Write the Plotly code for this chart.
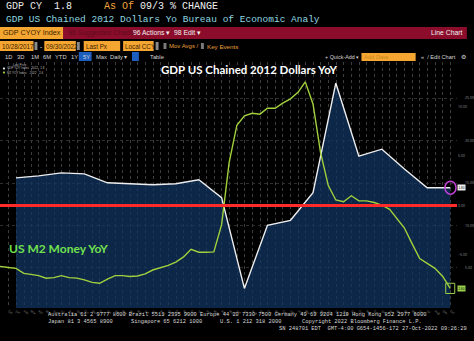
import pandas as pd
import plotly.graph_objects as go

# ---------------- data ----------------
gdp_dates = ["2017-12-31", "2018-03-31", "2018-06-30", "2018-09-30", "2018-12-31",
             "2019-03-31", "2019-06-30", "2019-09-30", "2019-12-31", "2020-03-31",
             "2020-06-30", "2020-09-30", "2020-12-31", "2021-03-31", "2021-06-30",
             "2021-09-30", "2021-12-31", "2022-03-31", "2022-06-30", "2022-09-30"]
gdp_yoy = [2.8, 3.0, 3.3, 3.2, 2.3, 2.2, 2.1, 2.2, 2.6, 0.8,
           -8.4, -2.0, -1.5, 1.3, 12.4, 5.0, 5.7, 3.7, 1.8, 1.8]

m2_dates = list(pd.date_range("2017-09-30", "2022-09-30", freq="ME").strftime("%Y-%m-%d"))
m2_yoy = [5.3, 5.15, 5.05, 4.96,
          4.37, 4.25, 4.1, 3.8, 3.87, 4.1, 3.87, 3.8, 3.6, 3.3, 3.2, 3.7,
          4.1, 4.1, 4.0, 4.05, 4.3, 4.76, 5.0, 5.3, 5.7, 6.3, 7.2, 6.85,
          6.85, 6.9, 10.1, 17.4, 21.8, 22.9, 23.2, 23.1, 23.8, 23.8, 24.4, 24.9,
          25.7, 26.9, 24.3, 18.6, 14.7, 13.0, 12.8, 13.5, 12.9, 12.9, 12.7, 12.4,
          11.9, 10.8, 9.7, 7.9, 6.1, 5.55, 4.96, 4.0, 2.6]

gdp_ticks = [-5, 0, 5, 10]
m2_ticks = [5, 10, 15, 20, 25]
x_range = ["2017-10-28", "2022-10-27"]
GDP_LO, GDP_HI = -10.38, 14.53
M2_LO, M2_HI = 0.29, 29.24

# ---------------- geometry helpers (pixels -> paper) ----------------
W, H = 474, 341
PL, PR, PT, PB = 0, 464, 62, 308


def px(x):
    return (x - PL) / (PR - PL)


def py(y):
    return (PB - y) / (PB - PT)


MONO = "Liberation Mono, DejaVu Sans Mono, monospace"
SANS = "Liberation Sans, Arial, sans-serif"
ORANGE = "#f5a631"
RED_BAR = "#8b0d2b"

shapes = []
annotations = []


def box(x0, y0, x1, y1, color):
    shapes.append(dict(type="rect", xref="paper", yref="paper",
                       x0=px(x0), x1=px(x1), y0=py(y1), y1=py(y0),
                       fillcolor=color, line_width=0, layer="above"))


def txt(x, y, s, color="#e6e6e6", size=8, family=SANS, anchor="left", bold=False):
    annotations.append(dict(xref="paper", yref="paper", x=px(x), y=py(y),
                            text=("<b>%s</b>" % s) if bold else s, showarrow=False,
                            xanchor=anchor, yanchor="middle", borderpad=0,
                            font=dict(family=family, size=size, color=color)))


# header row 1
txt(5, 6.5, "GDP CY", "#e6e6e6", 10, MONO)
txt(54, 6.5, "1.8", "#f0f0f0", 10, MONO)
txt(105, 6.5, "As Of", "#f0a33a", 10, MONO)
txt(141, 6.5, "09/3 % CHANGE", "#f0f0f0", 10, MONO)
# header row 2
txt(5, 19, "GDP US Chained 2012 Dollars Yo Bureau of Economic Analy", "#8fd8e0", 9.5, MONO)
# red toolbar
box(0, 27, 474, 39, RED_BAR)
box(0, 27, 64, 39, ORANGE)
txt(2, 33, "GDP CYOY Index", "#3a2200", 7.2)
txt(68, 33, "96 Suggested Charts", "#5e0a1c", 7)
txt(134, 33, "96 Actions ▾", "#f2f2f2", 6.8)
txt(176, 33, "98 Edit ▾", "#f2f2f2", 6.8)
txt(470, 33, "Line Chart", "#f2f2f2", 6.8, anchor="right")
# date row
for (a, b, s) in [(0, 34, "10/28/2017"), (45, 77, "09/30/2022"), (85, 122, "Last Px"),
                  (125, 156, "Local CCY")]:
    box(a, 41, b, 51, ORANGE)
    txt(a + 1, 46, s, "#3a2200", 6.3)
for a in (35, 78, 158):
    box(a, 42, a + 3, 50, "#8a8a8a")
txt(40, 46, "-", "#e0e0e0", 6.3)
box(166, 43, 169, 49, "#7a7a7a")
txt(171, 46, "Mov Avgs /", "#e8a03c", 6)
box(204, 43, 207, 49, "#7a7a7a")
txt(209, 46, "Key Events", "#e8a03c", 6.2)
# range row
box(80, 52, 93, 61, "#1d5fbf")
box(134, 52, 141, 61, "#1d5fbf")
for (x, s) in [(4, "1D"), (16, "3D"), (30, "1M"), (43, "6M"), (55, "YTD"), (71, "1Y"),
               (83, "5Y"), (96, "Max"), (111, "Daily ▾"), (151, "Table")]:
    txt(x, 57, s, "#d6d6d6", 5.8)
txt(329, 57, "+ Quick-Add ▾", "#d6d6d6", 5.4)
box(367, 53, 422, 61, ORANGE)
txt(369, 57, "Add Data", "#c9861c", 5.8)
txt(426, 57, "«  / Edit Chart", "#d6d6d6", 5.6)
txt(467, 57, "⚙", "#d6d6d6", 5.6)

# mini legend
txt(12, 64.5, "Last Price", "#bbbbbb", 3)
box(3, 67.6, 5, 69.4, "#f0f0f0")
txt(6, 68.5, "GDP YOY Index   2022   1.8", "#bbbbbb", 3)
box(3, 71.6, 5, 73.4, "#a2d13c")
txt(6, 72.5, "M2 YOY Index    2022   2.6", "#bbbbbb", 3)

# chart texts
txt(253, 70, "GDP US Chained 2012 Dollars YoY", "#ffffff", 11.5, "Lato, Open Sans, sans-serif",
    anchor="center", bold=True)
txt(8, 248, "US M2 Money YoY", "#72e04e", 12, "Lato, Open Sans, sans-serif", bold=True)

# footer
FOOT = "#d8d8d8"
txt(48, 315, "Australia 61 2 9777 8600 Brazil 5511 2395 9000 Europe 44 20 7330 7500 "
             "Germany 49 69 9204 1210 Hong Kong 852 2977 6000", FOOT, 5.4, MONO)
txt(48, 322, "Japan 81 3 4565 8900", FOOT, 5.4, MONO)
txt(132, 322, "Singapore 65 6212 1000", FOOT, 5.4, MONO)
txt(222, 322, "U.S. 1 212 318 2000", FOOT, 5.4, MONO)
txt(306, 322, "Copyright 2022 Bloomberg Finance L.P.", FOOT, 5.4, MONO)
txt(282, 328.5, "SN 248701 EDT  GMT-4:00 G654-1456-172 27-Oct-2022 09:26:29", FOOT, 5.4, MONO)

# ---------------- traces ----------------
fig = go.Figure()
fig.add_trace(go.Scatter(x=gdp_dates, y=[GDP_LO] * len(gdp_dates), mode="lines",
                         line=dict(width=0, color="rgba(0,0,0,0)"), hoverinfo="skip",
                         yaxis="y"))
fig.add_trace(go.Scatter(x=gdp_dates, y=gdp_yoy, mode="lines", name="GDP YoY",
                         line=dict(color="#eeeeee", width=1.4), fill="tonexty",
                         fillcolor="rgba(17,53,98,0.74)", yaxis="y"))
fig.add_trace(go.Scatter(x=m2_dates, y=m2_yoy, mode="lines", name="US M2 Money YoY",
                         line=dict(color="#a2d13c", width=1.4), yaxis="y2"))

# reference line and last-value highlights
shapes.append(dict(type="line", xref="paper", yref="y", x0=0, x1=1, y0=0, y1=0,
                   line=dict(color="#ff2b2b", width=3), layer="above"))
g_last = pd.Timestamp(gdp_dates[-1])
shapes.append(dict(type="circle", xref="x", yref="y",
                   x0=g_last - pd.Timedelta(days=21), x1=g_last + pd.Timedelta(days=23),
                   y0=gdp_yoy[-1] - 0.66, y1=gdp_yoy[-1] + 0.66,
                   line=dict(color="#c23fd6", width=1.5), layer="above"))
m_last = pd.Timestamp(m2_dates[-1])
shapes.append(dict(type="rect", xref="x", yref="y2",
                   x0=m_last - pd.Timedelta(days=18), x1=m_last + pd.Timedelta(days=18),
                   y0=m2_yoy[-1] - 0.6, y1=m2_yoy[-1] + 0.6,
                   line=dict(color="#9ad04a", width=1), layer="above"))
annotations.append(dict(xref="paper", yref="y", x=1.0, y=gdp_yoy[-1], xanchor="left",
                        yanchor="middle", text="1.80", showarrow=False, bgcolor="#f0f0f0",
                        borderpad=0.5, font=dict(size=3, color="#000000", family=SANS)))
annotations.append(dict(xref="paper", yref="y2", x=1.0, y=m2_yoy[-1], xanchor="left",
                        yanchor="middle", text="2.60", showarrow=False, bgcolor="#9ad04a",
                        borderpad=0.5, font=dict(size=3, color="#000000", family=SANS)))

fig.update_layout(
    width=W, height=H,
    margin=dict(l=PL, r=W - PR, t=PT, b=H - PB),
    paper_bgcolor="#000000", plot_bgcolor="#000000",
    showlegend=False,
    xaxis=dict(range=x_range, type="date", showgrid=True, gridcolor="#3d3d3d", griddash="dot",
               gridwidth=1, dtick="M1", tick0="2017-11-01", tickformat="%b",
               tickfont=dict(size=3, color="#8a8a8a"), ticks="", showline=False,
               zeroline=False, fixedrange=True),
    yaxis=dict(range=[GDP_LO, GDP_HI], side="right", showgrid=False, zeroline=False,
               tickvals=gdp_ticks, tickformat=".2f", ticks="",
               tickfont=dict(size=3.5, color="#9a9a9a"), showline=False),
    yaxis2=dict(range=[M2_LO, M2_HI], overlaying="y", side="right", showgrid=True,
                gridcolor="#2e2e2e", griddash="dot", zeroline=False, tickvals=m2_ticks,
                tickformat=".2f", ticks="", ticklabelstandoff=7,
                tickfont=dict(size=3.5, color="#9a9a9a"), showline=False),
    shapes=shapes,
    annotations=annotations,
)

fig.write_html("out.html")
